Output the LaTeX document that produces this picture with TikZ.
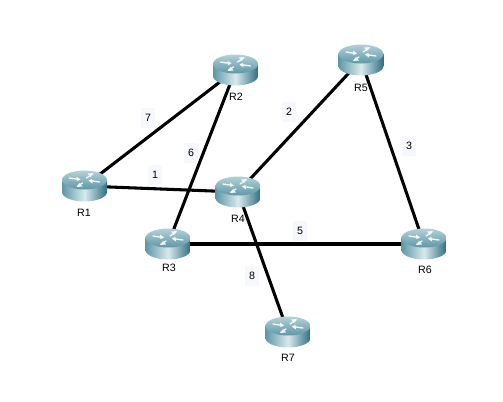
\documentclass[tikz,border=0pt]{standalone}
\usepackage{fontspec}
\setmainfont{Liberation Sans}
\usetikzlibrary{backgrounds}
\tikzset{
  x=0.75pt,y=-0.75pt,
  routerbody/.style={minimum width=33.75pt,minimum height=23.25pt,inner sep=0pt,
    path picture={
      \begin{scope}[shift={(path picture bounding box.center)}]
        \shade[left color=rteal,right color=rdark,middle color=rlight]
          (-22.5,-6) -- (-22.5,6) arc[start angle=180,end angle=0,x radius=22.5,y radius=9.5] -- (22.5,-6) -- cycle;
        \shade[top color=rtop,bottom color=rteal]
          (0,-6) ellipse[x radius=22.5,y radius=9.5];
        \draw[rwhite,line width=1pt,line cap=round] (-15,-8) -- (-5,-6.5);
        \draw[rwhite,line width=1pt,line cap=round] (15,-4) -- (5,-5.5);
        \draw[rwhite,line width=1pt,line cap=round] (2,-8) -- (8,-12);
        \draw[rwhite,line width=1pt,line cap=round] (-2,-3) -- (-7,0);
        \fill[rwhite] (-4,-6.5) -- (-8,-9.5) -- (-7.5,-5) -- cycle;
        \fill[rwhite] (4,-5.5) -- (8,-2.5) -- (7.5,-7) -- cycle;
        \fill[rwhite] (9,-13) -- (3,-12.5) -- (6,-9) -- cycle;
        \fill[rwhite] (-8,1) -- (-2,0.5) -- (-5,-3) -- cycle;
      \end{scope}
    }},
  rlabel/.style={font=\fontsize{8}{9}\selectfont,text=black,inner sep=0pt},
  linklabel/.style={font=\fontsize{8}{9}\selectfont,text=black,fill=lfill,inner xsep=3pt,inner ysep=5pt},
  linkline/.style={line width=2.3pt,black}
}
\definecolor{rteal}{HTML}{5E97A8}
\definecolor{rdark}{HTML}{2F6E80}
\definecolor{rlight}{HTML}{D8EAEC}
\definecolor{rtop}{HTML}{B4D0D8}
\definecolor{rwhite}{HTML}{F4F8F8}
\definecolor{lfill}{HTML}{F7F8FE}
\begin{document}
\begin{tikzpicture}
\useasboundingbox (0,0) rectangle (503,401);
\node[routerbody] (R1) at (84.5,186) {};
\node[routerbody] (R2) at (235.5,70) {};
\node[routerbody] (R3) at (168,244) {};
\node[routerbody] (R4) at (238,192) {};
\node[routerbody] (R5) at (361,60) {};
\node[routerbody] (R6) at (424,244) {};
\node[routerbody] (R7) at (288,332) {};
\begin{scope}[on background layer]
\draw[linkline] (R1.center) -- (R2.center);
\draw[linkline] (R1.center) -- (R4.center);
\draw[linkline] (R2.center) -- (R3.center);
\draw[linkline] (R4.center) -- (R5.center);
\draw[linkline] (R5.center) -- (R6.center);
\draw[linkline] (R3.center) -- (R6.center);
\draw[linkline] (R4.center) -- (R7.center);
\end{scope}
\node[rlabel] (l1) at (84,213) {R1};
\node[rlabel] (l2) at (236,97) {R2};
\node[rlabel] (l3) at (169,268) {R3};
\node[rlabel] (l4) at (238,219) {R4};
\node[rlabel] (l5) at (361,88) {R5};
\node[rlabel] (l6) at (425,270) {R6};
\node[rlabel] (l7) at (288,358) {R7};
\node[linklabel] (n1) at (155,175) {1};
\node[linklabel] (n2) at (289,112) {2};
\node[linklabel] (n3) at (409,146) {3};
\node[linklabel] (n5) at (300,231) {5};
\node[linklabel] (n6) at (191,153) {6};
\node[linklabel] (n7) at (148,118) {7};
\node[linklabel] (n8) at (252,276) {8};
\end{tikzpicture}
\end{document}
